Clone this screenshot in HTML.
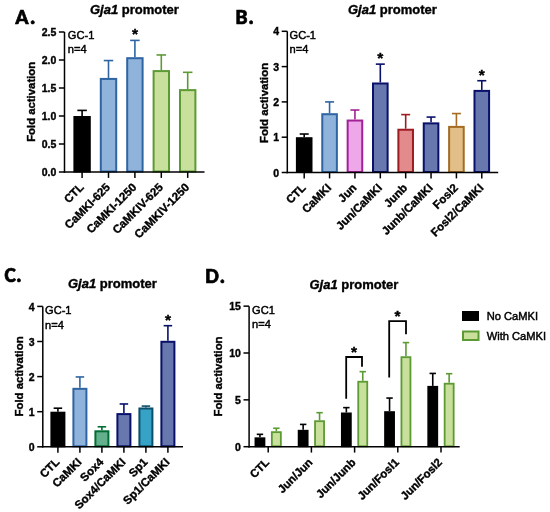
<!DOCTYPE html><html><head><meta charset="utf-8"><title>Gja1 promoter</title><style>html,body{margin:0;padding:0;background:#fff;}svg{display:block;}</style></head><body>
<svg width="550" height="512" viewBox="0 0 550 512">
<rect width="550" height="512" fill="#fff"/>
<text x="15.3" y="24.1" font-family='Carlito, "Liberation Sans", sans-serif' font-size="22" font-weight="bold" stroke="#000" stroke-width="0.7">A<tspan dx="1.0">.</tspan></text>
<text x="90" y="13.6" font-family='"Liberation Sans", Arial, Helvetica, sans-serif' font-size="13" font-weight="bold" stroke="#000" stroke-width="0.38"><tspan font-style="italic">Gja1</tspan> promoter</text>
<text x="34.70" y="101.85" font-family='"Liberation Sans", Arial, Helvetica, sans-serif' font-size="11.35" font-weight="bold" text-anchor="middle" transform="rotate(-90 34.70 101.85)" fill="#000" stroke="#000" stroke-width="0.38">Fold activation</text>
<text x="67.80" y="39.10" font-family='"Liberation Sans", Arial, Helvetica, sans-serif' font-size="11.1" font-weight="normal" text-anchor="start" fill="#000" stroke="#000" stroke-width="0.45">GC-1</text>
<text x="67.80" y="53.10" font-family='"Liberation Sans", Arial, Helvetica, sans-serif' font-size="11.1" font-weight="normal" text-anchor="start" fill="#000" stroke="#000" stroke-width="0.45">n=4</text>
<line x1="82.10" y1="116.00" x2="82.10" y2="110.40" stroke="#000" stroke-width="1.6"/>
<line x1="77.35" y1="110.40" x2="86.85" y2="110.40" stroke="#000" stroke-width="1.6"/>
<rect x="74.40" y="117.00" width="15.40" height="54.50" fill="#000" stroke="#000" stroke-width="2"/>
<line x1="108.50" y1="77.92" x2="108.50" y2="60.56" stroke="#2f64a3" stroke-width="1.6"/>
<line x1="103.75" y1="60.56" x2="113.25" y2="60.56" stroke="#2f64a3" stroke-width="1.6"/>
<rect x="100.80" y="78.92" width="15.40" height="92.58" fill="#8fb3db" stroke="#2f64a3" stroke-width="2"/>
<line x1="134.90" y1="57.20" x2="134.90" y2="40.40" stroke="#2f64a3" stroke-width="1.6"/>
<line x1="130.15" y1="40.40" x2="139.65" y2="40.40" stroke="#2f64a3" stroke-width="1.6"/>
<rect x="127.20" y="58.20" width="15.40" height="113.30" fill="#8fb3db" stroke="#2f64a3" stroke-width="2"/>
<text x="134.90" y="39.30" font-family='"Liberation Sans", Arial, Helvetica, sans-serif' font-size="15.5" font-weight="bold" text-anchor="middle" fill="#000" stroke="#000" stroke-width="0.38">*</text>
<line x1="161.30" y1="70.08" x2="161.30" y2="54.96" stroke="#5c9a34" stroke-width="1.6"/>
<line x1="156.55" y1="54.96" x2="166.05" y2="54.96" stroke="#5c9a34" stroke-width="1.6"/>
<rect x="153.60" y="71.08" width="15.40" height="100.42" fill="#c8e09b" stroke="#5c9a34" stroke-width="2"/>
<line x1="187.70" y1="89.12" x2="187.70" y2="72.32" stroke="#5c9a34" stroke-width="1.6"/>
<line x1="182.95" y1="72.32" x2="192.45" y2="72.32" stroke="#5c9a34" stroke-width="1.6"/>
<rect x="180.00" y="90.12" width="15.40" height="81.38" fill="#c8e09b" stroke="#5c9a34" stroke-width="2"/>
<line x1="64.50" y1="32.00" x2="64.50" y2="172.75" stroke="#000" stroke-width="1.5"/>
<line x1="63.75" y1="172.00" x2="204.50" y2="172.00" stroke="#000" stroke-width="1.5"/>
<line x1="58.90" y1="172.00" x2="64.50" y2="172.00" stroke="#000" stroke-width="1.5"/>
<text x="56.30" y="176.18" font-family='"Liberation Sans", Arial, Helvetica, sans-serif' font-size="10.5" font-weight="bold" text-anchor="end" fill="#000" stroke="#000" stroke-width="0.38">0.0</text>
<line x1="58.90" y1="144.00" x2="64.50" y2="144.00" stroke="#000" stroke-width="1.5"/>
<text x="56.30" y="148.18" font-family='"Liberation Sans", Arial, Helvetica, sans-serif' font-size="10.5" font-weight="bold" text-anchor="end" fill="#000" stroke="#000" stroke-width="0.38">0.5</text>
<line x1="58.90" y1="116.00" x2="64.50" y2="116.00" stroke="#000" stroke-width="1.5"/>
<text x="56.30" y="120.18" font-family='"Liberation Sans", Arial, Helvetica, sans-serif' font-size="10.5" font-weight="bold" text-anchor="end" fill="#000" stroke="#000" stroke-width="0.38">1.0</text>
<line x1="58.90" y1="88.00" x2="64.50" y2="88.00" stroke="#000" stroke-width="1.5"/>
<text x="56.30" y="92.18" font-family='"Liberation Sans", Arial, Helvetica, sans-serif' font-size="10.5" font-weight="bold" text-anchor="end" fill="#000" stroke="#000" stroke-width="0.38">1.5</text>
<line x1="58.90" y1="60.00" x2="64.50" y2="60.00" stroke="#000" stroke-width="1.5"/>
<text x="56.30" y="64.18" font-family='"Liberation Sans", Arial, Helvetica, sans-serif' font-size="10.5" font-weight="bold" text-anchor="end" fill="#000" stroke="#000" stroke-width="0.38">2.0</text>
<line x1="58.90" y1="32.00" x2="64.50" y2="32.00" stroke="#000" stroke-width="1.5"/>
<text x="56.30" y="36.18" font-family='"Liberation Sans", Arial, Helvetica, sans-serif' font-size="10.5" font-weight="bold" text-anchor="end" fill="#000" stroke="#000" stroke-width="0.38">2.5</text>
<line x1="82.10" y1="172.00" x2="82.10" y2="177.90" stroke="#000" stroke-width="1.5"/>
<line x1="108.50" y1="172.00" x2="108.50" y2="177.90" stroke="#000" stroke-width="1.5"/>
<line x1="134.90" y1="172.00" x2="134.90" y2="177.90" stroke="#000" stroke-width="1.5"/>
<line x1="161.30" y1="172.00" x2="161.30" y2="177.90" stroke="#000" stroke-width="1.5"/>
<line x1="187.70" y1="172.00" x2="187.70" y2="177.90" stroke="#000" stroke-width="1.5"/>
<text x="84.50" y="188.00" font-family='"Liberation Sans", Arial, Helvetica, sans-serif' font-size="11.5" font-weight="bold" text-anchor="end" transform="rotate(-45 84.50 188.00)" fill="#000" stroke="#000" stroke-width="0.38">CTL</text>
<text x="110.90" y="188.00" font-family='"Liberation Sans", Arial, Helvetica, sans-serif' font-size="11.5" font-weight="bold" text-anchor="end" transform="rotate(-45 110.90 188.00)" fill="#000" stroke="#000" stroke-width="0.38">CaMKI-625</text>
<text x="137.30" y="188.00" font-family='"Liberation Sans", Arial, Helvetica, sans-serif' font-size="11.5" font-weight="bold" text-anchor="end" transform="rotate(-45 137.30 188.00)" fill="#000" stroke="#000" stroke-width="0.38">CaMKI-1250</text>
<text x="163.70" y="188.00" font-family='"Liberation Sans", Arial, Helvetica, sans-serif' font-size="11.5" font-weight="bold" text-anchor="end" transform="rotate(-45 163.70 188.00)" fill="#000" stroke="#000" stroke-width="0.38">CaMKIV-625</text>
<text x="190.10" y="188.00" font-family='"Liberation Sans", Arial, Helvetica, sans-serif' font-size="11.5" font-weight="bold" text-anchor="end" transform="rotate(-45 190.10 188.00)" fill="#000" stroke="#000" stroke-width="0.38">CaMKIV-1250</text>
<text x="235.6" y="24.1" font-family='Carlito, "Liberation Sans", sans-serif' font-size="21.5" font-weight="bold" stroke="#000" stroke-width="0.7">B<tspan dx="0.7">.</tspan></text>
<text x="348" y="13.5" font-family='"Liberation Sans", Arial, Helvetica, sans-serif' font-size="13" font-weight="bold" stroke="#000" stroke-width="0.38"><tspan font-style="italic">Gja1</tspan> promoter</text>
<text x="267.60" y="102.90" font-family='"Liberation Sans", Arial, Helvetica, sans-serif' font-size="11.35" font-weight="bold" text-anchor="middle" transform="rotate(-90 267.60 102.90)" fill="#000" stroke="#000" stroke-width="0.38">Fold activation</text>
<text x="289.50" y="39.10" font-family='"Liberation Sans", Arial, Helvetica, sans-serif' font-size="11.1" font-weight="normal" text-anchor="start" fill="#000" stroke="#000" stroke-width="0.45">GC-1</text>
<text x="289.50" y="53.40" font-family='"Liberation Sans", Arial, Helvetica, sans-serif' font-size="11.1" font-weight="normal" text-anchor="start" fill="#000" stroke="#000" stroke-width="0.45">n=4</text>
<line x1="304.20" y1="137.20" x2="304.20" y2="134.02" stroke="#000" stroke-width="1.6"/>
<line x1="299.70" y1="134.02" x2="308.70" y2="134.02" stroke="#000" stroke-width="1.6"/>
<rect x="296.90" y="138.20" width="14.60" height="33.80" fill="#000" stroke="#000" stroke-width="2"/>
<line x1="329.57" y1="113.20" x2="329.57" y2="101.90" stroke="#2f64a3" stroke-width="1.6"/>
<line x1="325.07" y1="101.90" x2="334.07" y2="101.90" stroke="#2f64a3" stroke-width="1.6"/>
<rect x="322.27" y="114.20" width="14.60" height="57.80" fill="#8fb3db" stroke="#2f64a3" stroke-width="2"/>
<line x1="354.94" y1="119.55" x2="354.94" y2="110.02" stroke="#a02296" stroke-width="1.6"/>
<line x1="350.44" y1="110.02" x2="359.44" y2="110.02" stroke="#a02296" stroke-width="1.6"/>
<rect x="347.64" y="120.55" width="14.60" height="51.45" fill="#eea8ea" stroke="#a02296" stroke-width="2"/>
<line x1="380.31" y1="82.49" x2="380.31" y2="64.13" stroke="#08106a" stroke-width="1.6"/>
<line x1="375.81" y1="64.13" x2="384.81" y2="64.13" stroke="#08106a" stroke-width="1.6"/>
<rect x="373.01" y="83.49" width="14.60" height="88.51" fill="#6878ae" stroke="#08106a" stroke-width="2"/>
<text x="380.31" y="63.03" font-family='"Liberation Sans", Arial, Helvetica, sans-serif' font-size="15.5" font-weight="bold" text-anchor="middle" fill="#000" stroke="#000" stroke-width="0.38">*</text>
<line x1="405.68" y1="128.73" x2="405.68" y2="114.61" stroke="#9c1c22" stroke-width="1.6"/>
<line x1="401.18" y1="114.61" x2="410.18" y2="114.61" stroke="#9c1c22" stroke-width="1.6"/>
<rect x="398.38" y="129.73" width="14.60" height="42.27" fill="#e38a8d" stroke="#9c1c22" stroke-width="2"/>
<line x1="431.05" y1="122.37" x2="431.05" y2="117.08" stroke="#08106a" stroke-width="1.6"/>
<line x1="426.55" y1="117.08" x2="435.55" y2="117.08" stroke="#08106a" stroke-width="1.6"/>
<rect x="423.75" y="123.37" width="14.60" height="48.63" fill="#6878ae" stroke="#08106a" stroke-width="2"/>
<line x1="456.42" y1="125.90" x2="456.42" y2="113.55" stroke="#a46c22" stroke-width="1.6"/>
<line x1="451.92" y1="113.55" x2="460.92" y2="113.55" stroke="#a46c22" stroke-width="1.6"/>
<rect x="449.12" y="126.90" width="14.60" height="45.10" fill="#e2bf88" stroke="#a46c22" stroke-width="2"/>
<line x1="481.79" y1="89.90" x2="481.79" y2="80.72" stroke="#08106a" stroke-width="1.6"/>
<line x1="477.29" y1="80.72" x2="486.29" y2="80.72" stroke="#08106a" stroke-width="1.6"/>
<rect x="474.49" y="90.90" width="14.60" height="81.10" fill="#6878ae" stroke="#08106a" stroke-width="2"/>
<text x="481.79" y="79.62" font-family='"Liberation Sans", Arial, Helvetica, sans-serif' font-size="15.5" font-weight="bold" text-anchor="middle" fill="#000" stroke="#000" stroke-width="0.38">*</text>
<line x1="287.30" y1="31.30" x2="287.30" y2="173.25" stroke="#000" stroke-width="1.5"/>
<line x1="286.55" y1="172.50" x2="498.20" y2="172.50" stroke="#000" stroke-width="1.5"/>
<line x1="281.70" y1="172.50" x2="287.30" y2="172.50" stroke="#000" stroke-width="1.5"/>
<text x="279.10" y="176.68" font-family='"Liberation Sans", Arial, Helvetica, sans-serif' font-size="10.5" font-weight="bold" text-anchor="end" fill="#000" stroke="#000" stroke-width="0.38">0</text>
<line x1="281.70" y1="137.20" x2="287.30" y2="137.20" stroke="#000" stroke-width="1.5"/>
<text x="279.10" y="141.38" font-family='"Liberation Sans", Arial, Helvetica, sans-serif' font-size="10.5" font-weight="bold" text-anchor="end" fill="#000" stroke="#000" stroke-width="0.38">1</text>
<line x1="281.70" y1="101.90" x2="287.30" y2="101.90" stroke="#000" stroke-width="1.5"/>
<text x="279.10" y="106.08" font-family='"Liberation Sans", Arial, Helvetica, sans-serif' font-size="10.5" font-weight="bold" text-anchor="end" fill="#000" stroke="#000" stroke-width="0.38">2</text>
<line x1="281.70" y1="66.60" x2="287.30" y2="66.60" stroke="#000" stroke-width="1.5"/>
<text x="279.10" y="70.78" font-family='"Liberation Sans", Arial, Helvetica, sans-serif' font-size="10.5" font-weight="bold" text-anchor="end" fill="#000" stroke="#000" stroke-width="0.38">3</text>
<line x1="281.70" y1="31.30" x2="287.30" y2="31.30" stroke="#000" stroke-width="1.5"/>
<text x="279.10" y="35.48" font-family='"Liberation Sans", Arial, Helvetica, sans-serif' font-size="10.5" font-weight="bold" text-anchor="end" fill="#000" stroke="#000" stroke-width="0.38">4</text>
<line x1="304.20" y1="172.50" x2="304.20" y2="178.40" stroke="#000" stroke-width="1.5"/>
<line x1="329.57" y1="172.50" x2="329.57" y2="178.40" stroke="#000" stroke-width="1.5"/>
<line x1="354.94" y1="172.50" x2="354.94" y2="178.40" stroke="#000" stroke-width="1.5"/>
<line x1="380.31" y1="172.50" x2="380.31" y2="178.40" stroke="#000" stroke-width="1.5"/>
<line x1="405.68" y1="172.50" x2="405.68" y2="178.40" stroke="#000" stroke-width="1.5"/>
<line x1="431.05" y1="172.50" x2="431.05" y2="178.40" stroke="#000" stroke-width="1.5"/>
<line x1="456.42" y1="172.50" x2="456.42" y2="178.40" stroke="#000" stroke-width="1.5"/>
<line x1="481.79" y1="172.50" x2="481.79" y2="178.40" stroke="#000" stroke-width="1.5"/>
<text x="306.60" y="188.50" font-family='"Liberation Sans", Arial, Helvetica, sans-serif' font-size="11.5" font-weight="bold" text-anchor="end" transform="rotate(-45 306.60 188.50)" fill="#000" stroke="#000" stroke-width="0.38">CTL</text>
<text x="331.97" y="188.50" font-family='"Liberation Sans", Arial, Helvetica, sans-serif' font-size="11.5" font-weight="bold" text-anchor="end" transform="rotate(-45 331.97 188.50)" fill="#000" stroke="#000" stroke-width="0.38">CaMKI</text>
<text x="357.34" y="188.50" font-family='"Liberation Sans", Arial, Helvetica, sans-serif' font-size="11.5" font-weight="bold" text-anchor="end" transform="rotate(-45 357.34 188.50)" fill="#000" stroke="#000" stroke-width="0.38">Jun</text>
<text x="382.71" y="188.50" font-family='"Liberation Sans", Arial, Helvetica, sans-serif' font-size="11.5" font-weight="bold" text-anchor="end" transform="rotate(-45 382.71 188.50)" fill="#000" stroke="#000" stroke-width="0.38">Jun/CaMKI</text>
<text x="408.08" y="188.50" font-family='"Liberation Sans", Arial, Helvetica, sans-serif' font-size="11.5" font-weight="bold" text-anchor="end" transform="rotate(-45 408.08 188.50)" fill="#000" stroke="#000" stroke-width="0.38">Junb</text>
<text x="433.45" y="188.50" font-family='"Liberation Sans", Arial, Helvetica, sans-serif' font-size="11.5" font-weight="bold" text-anchor="end" transform="rotate(-45 433.45 188.50)" fill="#000" stroke="#000" stroke-width="0.38">Junb/CaMKI</text>
<text x="458.82" y="188.50" font-family='"Liberation Sans", Arial, Helvetica, sans-serif' font-size="11.5" font-weight="bold" text-anchor="end" transform="rotate(-45 458.82 188.50)" fill="#000" stroke="#000" stroke-width="0.38">Fosl2</text>
<text x="484.19" y="188.50" font-family='"Liberation Sans", Arial, Helvetica, sans-serif' font-size="11.5" font-weight="bold" text-anchor="end" transform="rotate(-45 484.19 188.50)" fill="#000" stroke="#000" stroke-width="0.38">Fosl2/CaMKI</text>
<text x="4.6" y="282.2" font-family='Carlito, "Liberation Sans", sans-serif' font-size="21.5" font-weight="bold" stroke="#000" stroke-width="0.7">C<tspan dx="0">.</tspan></text>
<text x="68" y="288" font-family='"Liberation Sans", Arial, Helvetica, sans-serif' font-size="13" font-weight="bold" stroke="#000" stroke-width="0.38"><tspan font-style="italic">Gja1</tspan> promoter</text>
<text x="23.00" y="376.40" font-family='"Liberation Sans", Arial, Helvetica, sans-serif' font-size="11.35" font-weight="bold" text-anchor="middle" transform="rotate(-90 23.00 376.40)" fill="#000" stroke="#000" stroke-width="0.38">Fold activation</text>
<text x="45.00" y="314.40" font-family='"Liberation Sans", Arial, Helvetica, sans-serif' font-size="11.1" font-weight="normal" text-anchor="start" fill="#000" stroke="#000" stroke-width="0.45">GC-1</text>
<text x="45.00" y="328.80" font-family='"Liberation Sans", Arial, Helvetica, sans-serif' font-size="11.1" font-weight="normal" text-anchor="start" fill="#000" stroke="#000" stroke-width="0.45">n=4</text>
<line x1="57.90" y1="411.70" x2="57.90" y2="408.19" stroke="#000" stroke-width="1.6"/>
<line x1="53.65" y1="408.19" x2="62.15" y2="408.19" stroke="#000" stroke-width="1.6"/>
<rect x="51.40" y="412.70" width="13.00" height="33.60" fill="#000" stroke="#000" stroke-width="2"/>
<line x1="79.90" y1="387.83" x2="79.90" y2="376.95" stroke="#2f64a3" stroke-width="1.6"/>
<line x1="75.65" y1="376.95" x2="84.15" y2="376.95" stroke="#2f64a3" stroke-width="1.6"/>
<rect x="73.40" y="388.83" width="13.00" height="57.47" fill="#8fb3db" stroke="#2f64a3" stroke-width="2"/>
<line x1="101.90" y1="430.30" x2="101.90" y2="426.79" stroke="#006e32" stroke-width="1.6"/>
<line x1="97.65" y1="426.79" x2="106.15" y2="426.79" stroke="#006e32" stroke-width="1.6"/>
<rect x="95.40" y="431.30" width="13.00" height="15.00" fill="#64af8c" stroke="#006e32" stroke-width="2"/>
<line x1="123.90" y1="413.10" x2="123.90" y2="403.98" stroke="#08106a" stroke-width="1.6"/>
<line x1="119.65" y1="403.98" x2="128.15" y2="403.98" stroke="#08106a" stroke-width="1.6"/>
<rect x="117.40" y="414.10" width="13.00" height="32.20" fill="#6878ae" stroke="#08106a" stroke-width="2"/>
<line x1="145.90" y1="407.49" x2="145.90" y2="406.08" stroke="#0c4f6a" stroke-width="1.6"/>
<line x1="141.65" y1="406.08" x2="150.15" y2="406.08" stroke="#0c4f6a" stroke-width="1.6"/>
<rect x="139.40" y="408.49" width="13.00" height="37.81" fill="#36a2c6" stroke="#0c4f6a" stroke-width="2"/>
<line x1="167.90" y1="340.80" x2="167.90" y2="325.70" stroke="#08106a" stroke-width="1.6"/>
<line x1="163.65" y1="325.70" x2="172.15" y2="325.70" stroke="#08106a" stroke-width="1.6"/>
<rect x="161.40" y="341.80" width="13.00" height="104.50" fill="#6878ae" stroke="#08106a" stroke-width="2"/>
<text x="167.90" y="324.60" font-family='"Liberation Sans", Arial, Helvetica, sans-serif' font-size="15.5" font-weight="bold" text-anchor="middle" fill="#000" stroke="#000" stroke-width="0.38">*</text>
<line x1="42.80" y1="306.40" x2="42.80" y2="447.55" stroke="#000" stroke-width="1.5"/>
<line x1="42.05" y1="446.80" x2="183.00" y2="446.80" stroke="#000" stroke-width="1.5"/>
<line x1="37.20" y1="446.80" x2="42.80" y2="446.80" stroke="#000" stroke-width="1.5"/>
<text x="34.60" y="450.98" font-family='"Liberation Sans", Arial, Helvetica, sans-serif' font-size="10.5" font-weight="bold" text-anchor="end" fill="#000" stroke="#000" stroke-width="0.38">0</text>
<line x1="37.20" y1="411.70" x2="42.80" y2="411.70" stroke="#000" stroke-width="1.5"/>
<text x="34.60" y="415.88" font-family='"Liberation Sans", Arial, Helvetica, sans-serif' font-size="10.5" font-weight="bold" text-anchor="end" fill="#000" stroke="#000" stroke-width="0.38">1</text>
<line x1="37.20" y1="376.60" x2="42.80" y2="376.60" stroke="#000" stroke-width="1.5"/>
<text x="34.60" y="380.78" font-family='"Liberation Sans", Arial, Helvetica, sans-serif' font-size="10.5" font-weight="bold" text-anchor="end" fill="#000" stroke="#000" stroke-width="0.38">2</text>
<line x1="37.20" y1="341.50" x2="42.80" y2="341.50" stroke="#000" stroke-width="1.5"/>
<text x="34.60" y="345.68" font-family='"Liberation Sans", Arial, Helvetica, sans-serif' font-size="10.5" font-weight="bold" text-anchor="end" fill="#000" stroke="#000" stroke-width="0.38">3</text>
<line x1="37.20" y1="306.40" x2="42.80" y2="306.40" stroke="#000" stroke-width="1.5"/>
<text x="34.60" y="310.58" font-family='"Liberation Sans", Arial, Helvetica, sans-serif' font-size="10.5" font-weight="bold" text-anchor="end" fill="#000" stroke="#000" stroke-width="0.38">4</text>
<line x1="57.90" y1="446.80" x2="57.90" y2="452.70" stroke="#000" stroke-width="1.5"/>
<line x1="79.90" y1="446.80" x2="79.90" y2="452.70" stroke="#000" stroke-width="1.5"/>
<line x1="101.90" y1="446.80" x2="101.90" y2="452.70" stroke="#000" stroke-width="1.5"/>
<line x1="123.90" y1="446.80" x2="123.90" y2="452.70" stroke="#000" stroke-width="1.5"/>
<line x1="145.90" y1="446.80" x2="145.90" y2="452.70" stroke="#000" stroke-width="1.5"/>
<line x1="167.90" y1="446.80" x2="167.90" y2="452.70" stroke="#000" stroke-width="1.5"/>
<text x="60.30" y="462.80" font-family='"Liberation Sans", Arial, Helvetica, sans-serif' font-size="11.5" font-weight="bold" text-anchor="end" transform="rotate(-45 60.30 462.80)" fill="#000" stroke="#000" stroke-width="0.38">CTL</text>
<text x="82.30" y="462.80" font-family='"Liberation Sans", Arial, Helvetica, sans-serif' font-size="11.5" font-weight="bold" text-anchor="end" transform="rotate(-45 82.30 462.80)" fill="#000" stroke="#000" stroke-width="0.38">CaMKI</text>
<text x="104.30" y="462.80" font-family='"Liberation Sans", Arial, Helvetica, sans-serif' font-size="11.5" font-weight="bold" text-anchor="end" transform="rotate(-45 104.30 462.80)" fill="#000" stroke="#000" stroke-width="0.38">Sox4</text>
<text x="126.30" y="462.80" font-family='"Liberation Sans", Arial, Helvetica, sans-serif' font-size="11.5" font-weight="bold" text-anchor="end" transform="rotate(-45 126.30 462.80)" fill="#000" stroke="#000" stroke-width="0.38">Sox4/CaMKI</text>
<text x="148.30" y="462.80" font-family='"Liberation Sans", Arial, Helvetica, sans-serif' font-size="11.5" font-weight="bold" text-anchor="end" transform="rotate(-45 148.30 462.80)" fill="#000" stroke="#000" stroke-width="0.38">Sp1</text>
<text x="170.30" y="462.80" font-family='"Liberation Sans", Arial, Helvetica, sans-serif' font-size="11.5" font-weight="bold" text-anchor="end" transform="rotate(-45 170.30 462.80)" fill="#000" stroke="#000" stroke-width="0.38">Sp1/CaMKI</text>
<text x="205.3" y="282.5" font-family='Carlito, "Liberation Sans", sans-serif' font-size="21.5" font-weight="bold" stroke="#000" stroke-width="0.7">D<tspan dx="1.0">.</tspan></text>
<text x="309.5" y="288.5" font-family='"Liberation Sans", Arial, Helvetica, sans-serif' font-size="13" font-weight="bold" stroke="#000" stroke-width="0.38"><tspan font-style="italic">Gja1</tspan> promoter</text>
<text x="221.70" y="376.50" font-family='"Liberation Sans", Arial, Helvetica, sans-serif' font-size="11.35" font-weight="bold" text-anchor="middle" transform="rotate(-90 221.70 376.50)" fill="#000" stroke="#000" stroke-width="0.38">Fold activation</text>
<text x="252.00" y="314.20" font-family='"Liberation Sans", Arial, Helvetica, sans-serif' font-size="11.1" font-weight="normal" text-anchor="start" fill="#000" stroke="#000" stroke-width="0.45">GC1</text>
<text x="252.00" y="328.30" font-family='"Liberation Sans", Arial, Helvetica, sans-serif' font-size="11.1" font-weight="normal" text-anchor="start" fill="#000" stroke="#000" stroke-width="0.45">n=4</text>
<line x1="259.95" y1="437.33" x2="259.95" y2="434.33" stroke="#000" stroke-width="1.6"/>
<line x1="256.75" y1="434.33" x2="263.15" y2="434.33" stroke="#000" stroke-width="1.6"/>
<rect x="255.45" y="438.23" width="9.00" height="8.07" fill="#000" stroke="#000" stroke-width="1.8"/>
<line x1="276.35" y1="431.24" x2="276.35" y2="428.24" stroke="#5c9a34" stroke-width="1.6"/>
<line x1="273.15" y1="428.24" x2="279.55" y2="428.24" stroke="#5c9a34" stroke-width="1.6"/>
<rect x="271.85" y="432.14" width="9.00" height="14.16" fill="#c8e09b" stroke="#5c9a34" stroke-width="1.8"/>
<line x1="303.15" y1="429.83" x2="303.15" y2="424.40" stroke="#000" stroke-width="1.6"/>
<line x1="299.95" y1="424.40" x2="306.35" y2="424.40" stroke="#000" stroke-width="1.6"/>
<rect x="298.65" y="430.73" width="9.00" height="15.57" fill="#000" stroke="#000" stroke-width="1.8"/>
<line x1="319.55" y1="420.28" x2="319.55" y2="412.69" stroke="#5c9a34" stroke-width="1.6"/>
<line x1="316.35" y1="412.69" x2="322.75" y2="412.69" stroke="#5c9a34" stroke-width="1.6"/>
<rect x="315.05" y="421.18" width="9.00" height="25.12" fill="#c8e09b" stroke="#5c9a34" stroke-width="1.8"/>
<line x1="346.35" y1="412.50" x2="346.35" y2="407.63" stroke="#000" stroke-width="1.6"/>
<line x1="343.15" y1="407.63" x2="349.55" y2="407.63" stroke="#000" stroke-width="1.6"/>
<rect x="341.85" y="413.40" width="9.00" height="32.90" fill="#000" stroke="#000" stroke-width="1.8"/>
<line x1="362.75" y1="380.83" x2="362.75" y2="371.65" stroke="#5c9a34" stroke-width="1.6"/>
<line x1="359.55" y1="371.65" x2="365.95" y2="371.65" stroke="#5c9a34" stroke-width="1.6"/>
<rect x="358.25" y="381.73" width="9.00" height="64.57" fill="#c8e09b" stroke="#5c9a34" stroke-width="1.8"/>
<line x1="389.55" y1="411.19" x2="389.55" y2="398.07" stroke="#000" stroke-width="1.6"/>
<line x1="386.35" y1="398.07" x2="392.75" y2="398.07" stroke="#000" stroke-width="1.6"/>
<rect x="385.05" y="412.09" width="9.00" height="34.21" fill="#000" stroke="#000" stroke-width="1.8"/>
<line x1="405.95" y1="356.28" x2="405.95" y2="342.60" stroke="#5c9a34" stroke-width="1.6"/>
<line x1="402.75" y1="342.60" x2="409.15" y2="342.60" stroke="#5c9a34" stroke-width="1.6"/>
<rect x="401.45" y="357.18" width="9.00" height="89.12" fill="#c8e09b" stroke="#5c9a34" stroke-width="1.8"/>
<line x1="432.75" y1="385.89" x2="432.75" y2="373.43" stroke="#000" stroke-width="1.6"/>
<line x1="429.55" y1="373.43" x2="435.95" y2="373.43" stroke="#000" stroke-width="1.6"/>
<rect x="428.25" y="386.79" width="9.00" height="59.51" fill="#000" stroke="#000" stroke-width="1.8"/>
<line x1="449.15" y1="382.80" x2="449.15" y2="373.71" stroke="#5c9a34" stroke-width="1.6"/>
<line x1="445.95" y1="373.71" x2="452.35" y2="373.71" stroke="#5c9a34" stroke-width="1.6"/>
<rect x="444.65" y="383.70" width="9.00" height="62.60" fill="#c8e09b" stroke="#5c9a34" stroke-width="1.8"/>
<line x1="249.10" y1="306.15" x2="249.10" y2="447.45" stroke="#000" stroke-width="1.5"/>
<line x1="248.35" y1="446.70" x2="459.70" y2="446.70" stroke="#000" stroke-width="1.5"/>
<line x1="243.50" y1="446.70" x2="249.10" y2="446.70" stroke="#000" stroke-width="1.5"/>
<text x="240.90" y="450.88" font-family='"Liberation Sans", Arial, Helvetica, sans-serif' font-size="10.5" font-weight="bold" text-anchor="end" fill="#000" stroke="#000" stroke-width="0.38">0</text>
<line x1="243.50" y1="399.85" x2="249.10" y2="399.85" stroke="#000" stroke-width="1.5"/>
<text x="240.90" y="404.03" font-family='"Liberation Sans", Arial, Helvetica, sans-serif' font-size="10.5" font-weight="bold" text-anchor="end" fill="#000" stroke="#000" stroke-width="0.38">5</text>
<line x1="243.50" y1="353.00" x2="249.10" y2="353.00" stroke="#000" stroke-width="1.5"/>
<text x="240.90" y="357.18" font-family='"Liberation Sans", Arial, Helvetica, sans-serif' font-size="10.5" font-weight="bold" text-anchor="end" fill="#000" stroke="#000" stroke-width="0.38">10</text>
<line x1="243.50" y1="306.15" x2="249.10" y2="306.15" stroke="#000" stroke-width="1.5"/>
<text x="240.90" y="310.33" font-family='"Liberation Sans", Arial, Helvetica, sans-serif' font-size="10.5" font-weight="bold" text-anchor="end" fill="#000" stroke="#000" stroke-width="0.38">15</text>
<line x1="268.20" y1="446.70" x2="268.20" y2="452.60" stroke="#000" stroke-width="1.5"/>
<line x1="311.40" y1="446.70" x2="311.40" y2="452.60" stroke="#000" stroke-width="1.5"/>
<line x1="354.60" y1="446.70" x2="354.60" y2="452.60" stroke="#000" stroke-width="1.5"/>
<line x1="397.80" y1="446.70" x2="397.80" y2="452.60" stroke="#000" stroke-width="1.5"/>
<line x1="441.00" y1="446.70" x2="441.00" y2="452.60" stroke="#000" stroke-width="1.5"/>
<text x="270.00" y="463.10" font-family='"Liberation Sans", Arial, Helvetica, sans-serif' font-size="11.35" font-weight="bold" text-anchor="end" transform="rotate(-45 270.00 463.10)" fill="#000" stroke="#000" stroke-width="0.38">CTL</text>
<text x="313.20" y="463.10" font-family='"Liberation Sans", Arial, Helvetica, sans-serif' font-size="11.35" font-weight="bold" text-anchor="end" transform="rotate(-45 313.20 463.10)" fill="#000" stroke="#000" stroke-width="0.38">Jun/Jun</text>
<text x="356.40" y="463.10" font-family='"Liberation Sans", Arial, Helvetica, sans-serif' font-size="11.35" font-weight="bold" text-anchor="end" transform="rotate(-45 356.40 463.10)" fill="#000" stroke="#000" stroke-width="0.38">Jun/Junb</text>
<text x="399.60" y="463.10" font-family='"Liberation Sans", Arial, Helvetica, sans-serif' font-size="11.35" font-weight="bold" text-anchor="end" transform="rotate(-45 399.60 463.10)" fill="#000" stroke="#000" stroke-width="0.38">Jun/Fosl1</text>
<text x="442.80" y="463.10" font-family='"Liberation Sans", Arial, Helvetica, sans-serif' font-size="11.35" font-weight="bold" text-anchor="end" transform="rotate(-45 442.80 463.10)" fill="#000" stroke="#000" stroke-width="0.38">Jun/Fosl2</text>
<polyline points="346.2,398.8 346.2,357 362,357 362,366.7" fill="none" stroke="#000" stroke-width="1.8"/>
<text x="354.10" y="356.60" font-family='"Liberation Sans", Arial, Helvetica, sans-serif' font-size="15.5" font-weight="bold" text-anchor="middle" fill="#000" stroke="#000" stroke-width="0.38">*</text>
<polyline points="389.2,377.5 389.2,321.2 406,321.2 406,334.2" fill="none" stroke="#000" stroke-width="1.8"/>
<text x="397.40" y="320.80" font-family='"Liberation Sans", Arial, Helvetica, sans-serif' font-size="15.5" font-weight="bold" text-anchor="middle" fill="#000" stroke="#000" stroke-width="0.38">*</text>
<rect x="462.5" y="311.5" width="16" height="9" fill="#000" stroke="#000" stroke-width="1"/>
<rect x="463" y="331.5" width="15.5" height="8.5" fill="#c8e09b" stroke="#5c9a34" stroke-width="2"/>
<text x="486.70" y="320.00" font-family='"Liberation Sans", Arial, Helvetica, sans-serif' font-size="11.15" font-weight="normal" text-anchor="start" fill="#000" stroke="#000" stroke-width="0.45">No CaMKI</text>
<text x="486.70" y="339.50" font-family='"Liberation Sans", Arial, Helvetica, sans-serif' font-size="11.15" font-weight="normal" text-anchor="start" fill="#000" stroke="#000" stroke-width="0.45">With CaMKI</text>
</svg></body></html>
